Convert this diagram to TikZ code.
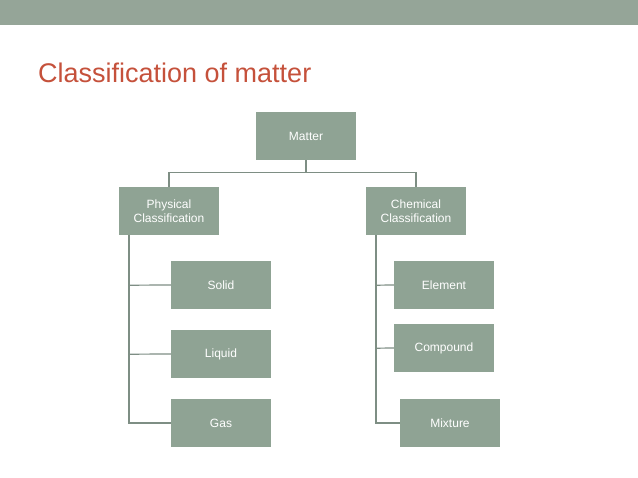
\documentclass[tikz,border=0pt]{standalone}
\usepackage{fontspec}
\setmainfont{Liberation Sans}
\definecolor{bar}{HTML}{95A598}
\definecolor{box}{HTML}{8FA394}
\definecolor{ln}{HTML}{7E8E84}
\definecolor{ttl}{HTML}{C5513B}
\begin{document}
\begin{tikzpicture}[x=1pt,y=-1pt,
  bx/.style={fill=box,text=white,minimum width=100pt,minimum height=48pt,inner sep=0pt,font=\fontsize{12}{14}\selectfont,align=center},
  cn/.style={draw=ln,line width=1.2pt}]
\useasboundingbox (0,0) rectangle (638,478);
\fill[bar] (0,0) rectangle (638,25);
\node[anchor=west,text=ttl,font=\fontsize{27}{30}\selectfont,inner sep=0pt] (title) at (38,73) {Classification of matter};
\node[bx] (m) at (306,136) {Matter};
\node[bx] (p) at (169,211) {Physical\\Classification};
\node[bx] (c) at (416,211) {Chemical\\Classification};
\node[bx] (s) at (221,285) {Solid};
\node[bx] (l) at (221,354) {Liquid};
\node[bx] (g) at (221,423) {Gas};
\node[bx] (e) at (444,285) {Element};
\node[bx] (co) at (444,348) {Compound};
\node[bx] (mi) at (450,423) {Mixture};
\draw[cn] (m.south) -- ++(0,12) -| (p.north);
\draw[cn] (m.south) ++(0,12) -| (c.north);
\draw[cn] ([xshift=-40pt]p.south) |- (g.west);
\draw[cn] ([xshift=-40pt]p.south) ++(0,50) -- (s.west);
\draw[cn] ([xshift=-40pt]p.south) ++(0,119) -- (l.west);
\draw[cn] ([xshift=-40pt]c.south) |- (mi.west);
\draw[cn] ([xshift=-40pt]c.south) ++(0,50) -- (e.west);
\draw[cn] ([xshift=-40pt]c.south) ++(0,113) -- (co.west);
\end{tikzpicture}
\end{document}
